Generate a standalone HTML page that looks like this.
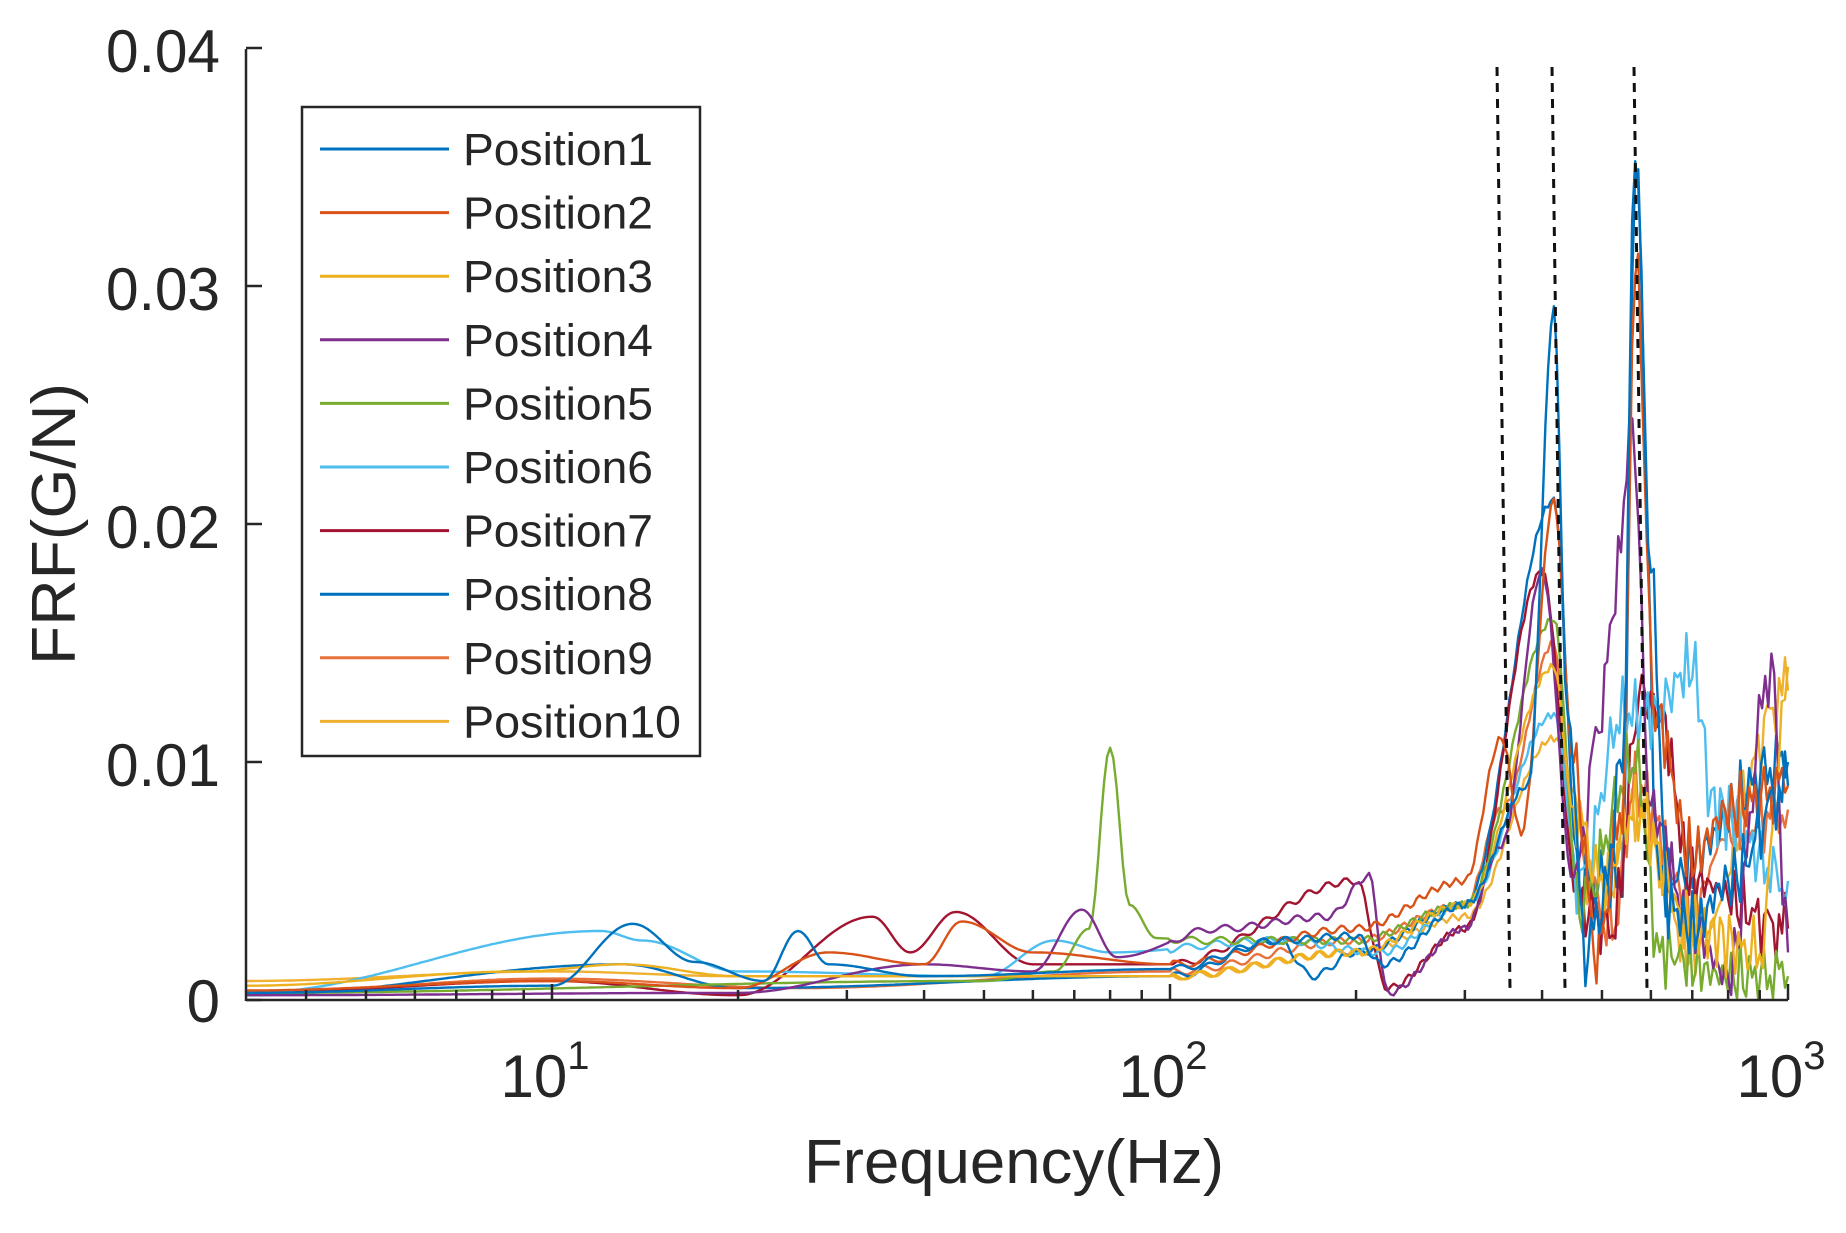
<!DOCTYPE html>
<html><head><meta charset="utf-8"><style>
html,body{margin:0;padding:0;background:#fff;}
svg{display:block;}
text{font-family:"Liberation Sans",sans-serif;fill:#262626;}
</style></head><body>
<svg id="s" width="1846" height="1233" viewBox="0 0 1846 1233" xmlns="http://www.w3.org/2000/svg">
<g id="curves" fill="none" stroke-width="2.4" stroke-linejoin="round"></g>
<g stroke="#111" stroke-width="3" stroke-dasharray="9,7">
<line x1="1497" y1="67" x2="1510" y2="989"/>
<line x1="1552" y1="67" x2="1565" y2="989"/>
<line x1="1634" y1="67" x2="1647" y2="989"/>
</g>
<g id="axes" stroke="#262626" stroke-width="2.5" fill="none">
<line x1="246" y1="49" x2="246" y2="1001"/>
<line x1="246" y1="1000" x2="1788" y2="1000"/>
</g>
<g font-size="60" text-anchor="end" lengthAdjust="spacingAndGlyphs">
<text x="220" y="72" textLength="114" lengthAdjust="spacingAndGlyphs">0.04</text>
<text x="220" y="310" textLength="114" lengthAdjust="spacingAndGlyphs">0.03</text>
<text x="220" y="548" textLength="114" lengthAdjust="spacingAndGlyphs">0.02</text>
<text x="220" y="786" textLength="114" lengthAdjust="spacingAndGlyphs">0.01</text>
<text x="220" y="1022">0</text>
</g>
<g font-size="60" text-anchor="middle">
<text x="545" y="1097">10<tspan font-size="40" dy="-28">1</tspan></text>
<text x="1163" y="1097">10<tspan font-size="40" dy="-28">2</tspan></text>
<text x="1781" y="1097">10<tspan font-size="40" dy="-28">3</tspan></text>
</g>
<text x="804" y="1183" font-size="62" textLength="420" lengthAdjust="spacingAndGlyphs">Frequency(Hz)</text>
<text font-size="62" transform="translate(75,665) rotate(-90)" textLength="282" lengthAdjust="spacingAndGlyphs">FRF(G/N)</text>
<g id="legend"><rect x="302" y="107" width="398" height="649" fill="#fff" stroke="#262626" stroke-width="2.5"/></g>
</svg>
<script>
var NS="http://www.w3.org/2000/svg";
function X(f){return 1788-(3-Math.log10(f))*618;}
function Y(v){return 1000-v*23.8;}
var cols=["#0072BD","#D95319","#EDB120","#7E2F8E","#77AC30","#4DBEEE","#A2142F","#0072BD","#E8703A","#F0B030"];
var D=[
[[3.2,.3],[10,.6],[13.5,3.2],[17,1.6],[22,.8],[25,2.9],[28,1.5],[40,1],[100,1.3],[150,2.5],[200,2.7],[220,1.5],[300,4],[380,9],[418,29],[440,12],[470,2],[500,4],[540,10],[566,36],[600,18],[640,4],[700,3],[800,5],[1000,9]],
[[3.2,.4],[10,.8],[20,.5],[28,2],[40,1.5],[46,3.3],[60,2],[100,1.5],[200,3],[300,5],[344,11],[370,7],[418,21],[450,10],[490,2],[540,8],[566,31],[610,12],[700,6],[800,8],[1000,9]],
[[3.2,.6],[9,1.2],[13,1.5],[20,1],[50,1],[100,1],[200,2],[300,4],[418,14],[450,8],[500,5],[566,8],[700,3],[900,2],[1000,14]],
[[3.2,.2],[20,.3],[40,1.5],[60,1.2],[72,3.8],[82,1.8],[120,3],[180,3.5],[210,5.2],[225,.3],[300,3],[344,6.5],[400,18],[450,5],[500,12],[520,16.5],[560,24],[600,8],[700,3],[800,1],[940,14],[1000,2]],
[[3.2,.3],[50,.8],[65,1.2],[74,3],[80,10.6],[86,4],[95,2.6],[110,2.5],[200,2.5],[300,4],[418,16],[460,4],[566,10],[620,2],[800,1],[1000,1]],
[[3.2,.3],[12,2.9],[14,2.5],[20,1.2],[50,1],[65,2.5],[80,2],[150,2.5],[220,2],[300,4],[418,12],[460,5],[540,12],[600,12],[700,14],[760,8],[1000,5]],
[[3.2,.3],[10,.8],[20,.2],[33,3.5],[38,2],[45,3.7],[60,1.5],[100,1.5],[200,5],[225,.5],[300,3],[400,18],[460,4],[520,3],[580,13],[620,12],[700,5],[1000,3]],
[[3.2,.2],[13,1.5],[20,.5],[100,1],[150,2.5],[170,1],[200,2],[300,4],[418,21],[460,5],[540,5],[566,35],[620,5],[1000,10]],
[[3.2,.3],[10,.9],[25,.5],[100,1.2],[200,2.5],[300,4],[344,8],[418,15],[450,6],[520,3],[566,9],[700,4],[800,7],[1000,8]],
[[3.2,.8],[10,1.2],[20,1],[100,1],[200,2],[300,3.5],[418,11],[500,4],[566,8],[700,2],[1000,13]]
];
var g=document.getElementById("curves");
for(var i=9;i>=0;i--){
 var p=D[i],d="";
 for(var k=0;k<p.length-1;k++){
  var a=p[k],b=p[k+1],la=Math.log10(a[0]),lb=Math.log10(b[0]);
  var n=Math.max(2,Math.round((X(b[0])-X(a[0]))/3));
  for(var j=0;j<n;j++){
   var t=j/n,lf=la+(lb-la)*t,f=Math.pow(10,lf);
   var s=(1-Math.cos(Math.PI*t))/2;
   var v=a[1]+(b[1]-a[1])*s;
   if(f>450)v+=1.6*Math.sin(f*0.37+i*3.1)*Math.sin(f*0.11+i);
   else if(f>100)v+=0.15*Math.sin(f*0.5+i);
   if(v<0)v=0.05;
   d+=(d?"L":"M")+X(f).toFixed(1)+" "+Y(v).toFixed(1);
  }
 }
 var l=p[p.length-1];d+="L"+X(l[0]).toFixed(1)+" "+Y(l[1]).toFixed(1);
 var e=document.createElementNS(NS,"path");e.setAttribute("d",d);e.setAttribute("stroke",cols[i]);g.appendChild(e);
}
var ax=document.getElementById("axes");
function ln(x1,y1,x2,y2){var e=document.createElementNS(NS,"line");e.setAttribute("x1",x1);e.setAttribute("y1",y1);e.setAttribute("x2",x2);e.setAttribute("y2",y2);ax.appendChild(e);}
for(var q=0;q<5;q++){var y=1000-q*238;ln(246,y,262,y);}
for(var e1=0;e1<3;e1++)for(var m=1;m<10;m++){var f=m*Math.pow(10,e1);if(f<3.2)continue;var x=X(f);ln(x,1000,x,m==1?984:990);}
ln(1788,1000,1788,984);
var lg=document.getElementById("legend");
var names=["Position1","Position2","Position3","Position4","Position5","Position6","Position7","Position8","Position9","Position10"];
for(var i=0;i<10;i++){
 var y=149+i*63.6;
 var L=document.createElementNS(NS,"line");L.setAttribute("x1",320);L.setAttribute("x2",449);L.setAttribute("y1",y);L.setAttribute("y2",y);L.setAttribute("stroke",cols[i]);L.setAttribute("stroke-width",3);lg.appendChild(L);
 var T=document.createElementNS(NS,"text");T.setAttribute("x",463);T.setAttribute("y",y+16);T.setAttribute("font-size",45);T.setAttribute("textLength",i==9?218:190);T.setAttribute("lengthAdjust","spacingAndGlyphs");T.textContent=names[i];lg.appendChild(T);
}
</script>
</body></html>
